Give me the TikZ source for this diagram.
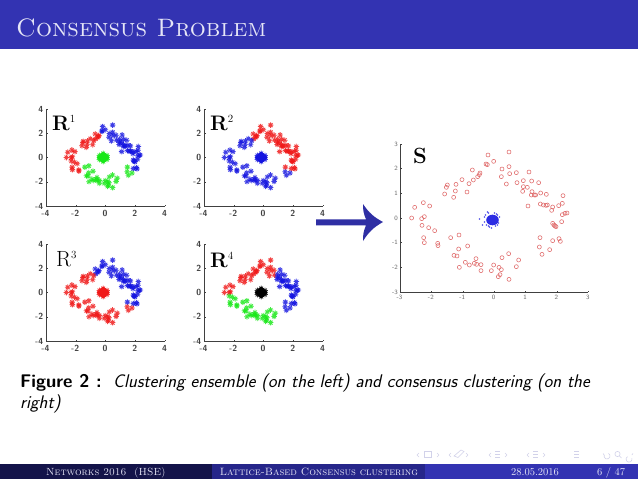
\documentclass[tikz,border=0pt]{standalone}
\definecolor{beamerblue}{HTML}{3333B2}
\definecolor{footdark}{HTML}{14144A}
\definecolor{footmid}{HTML}{26268A}
\definecolor{titletext}{HTML}{E6E6F7}
\definecolor{navgray}{HTML}{D2D2EA}
\definecolor{axisgray}{HTML}{404040}
\definecolor{mred}{HTML}{F01818}
\definecolor{mblue}{HTML}{1414E0}
\definecolor{mgreen}{HTML}{18E818}
\definecolor{mblack}{HTML}{000000}
\definecolor{sred}{HTML}{E06A6A}
\def\ptsAtop{387/66,324/75,341/94,318/102,322/104,387/110,366/117,389/131,409/128,364/140,379/162,411/158}
\def\ptsArest{447/126,430/152,455/153,476/158,430/170,442/172,428/184,456/185,482/189,499/193,454/195,463/195,467/195,549/197,481/222,490/225,498/226,502/225,518/231,515/241,536/227,547/220,444/228,555/250,561/249,547/254,545/275,518/280,522/285,525/288,528/290}
\def\ptsAa{518/332,537/326,541/334}
\def\ptsAb{480/323}
\def\ptsAc{478/351,509/359,486/373}
\def\ptsBa{277/120,300/129,298/134,293/140,280/150}
\def\ptsBb{246/149,228/163,267/161,202/165,199/172,226/183,261/186,194/192,221/202}
\def\ptsCa{130/218,104/232,149/228,95/264,125/266,133/260}
\def\ptsCb{126/286,146/293,164/302,131/323,133/338,173/340,174/347}
\def\ptsD{212/323,237/315,263/348,236/357,222/376,231/378,288/386,256/397,238/412,268/405,283/400,290/403,303/404,303/422,341/405,357/412,364/419,334/422,355/440,360/434,386/371,366/383,416/390,409/410,387/448}
\tikzset{
  axisline/.style={draw=axisgray,line width=0.7pt},
  ticklabel/.style={font=\sffamily\bfseries\fontsize{8.8}{9}\selectfont,text=axisgray,inner sep=0pt},
  sticklabel/.style={font=\sffamily\fontsize{6.5}{7}\selectfont,text=axisgray!80,inner sep=0pt},
  plotname/.style={inner sep=0pt,anchor=base west,font=\fontsize{21}{22}\selectfont},
  footertext/.style={inner sep=0pt,anchor=base,text=titletext,font=\scshape\fontsize{10.4}{11}\selectfont},
  navline/.style={draw=navgray,line width=0.6pt},
}
\newcommand\onestar[3]{%
  \draw[#1,line width=0.8pt,opacity=.82]
    (#2-2.8,#3)--(#2+2.8,#3) (#2,#3-2.8)--(#2,#3+2.8)
    (#2-1.9,#3-1.9)--(#2+1.9,#3+1.9) (#2-1.9,#3+1.9)--(#2+1.9,#3-1.9);
}
\newcommand\starpts[4]{%
  \expandafter\let\expandafter\curlist\csname pts#1\endcsname
  \foreach \zx/\zy in \curlist {%
    \pgfmathsetmacro\px{#3+(\zx-342)*0.1585}%
    \pgfmathsetmacro\py{#4+(\zy-264)*0.1635}%
    \onestar{#2}{\px}{\py}%
  }%
}
\newcommand\smallaxes[3]{%
  \draw[axisline] (#2-59.5,#3-48.5)--(#2-59.5,#3+48.5)--(#2+59.5,#3+48.5);
  \foreach \v in {-4,-2,0,2,4} {%
    \draw[axisline,line width=0.4pt] (#2-59.5,#3-\v*12.12)--(#2-58,#3-\v*12.12);
    \draw[axisline,line width=0.4pt] (#2+\v*14.87,#3+48.5)--(#2+\v*14.87,#3+47);
    \node[ticklabel,anchor=east] (#1y\v) at (#2-62,#3-\v*12.12) {\v};
    \node[ticklabel] (#1x\v) at (#2+\v*14.87-0.5,#3+56) {\v};
  }%
}
\newcommand\centreblob[3]{%
  \filldraw[#1,line width=1.6pt,line join=round] (#2-8,#3) -- (#2-2.3,#3-5) -- (#2+3.4,#3) -- (#2-2.3,#3+5) -- cycle;
  \foreach \ox/\oy in {-6/-2,-6/2,-2.3/-4,-2.3/4,1.5/-2,1.5/2} {\onestar{#1}{#2+\ox}{#3+\oy}}
}
\begin{document}
\begin{tikzpicture}[x=1pt,y=-1pt]
\useasboundingbox (0,0) rectangle (638,479);
\fill[white] (0,0) rectangle (638,479);
% title bar
\fill[beamerblue] (0,0) rectangle (638,49);
\node[inner sep=0pt,anchor=base west,text=titletext,font=\scshape\fontsize{25.2}{27}\selectfont] (title) at (16,36) {Consensus Problem};
% plot R1
\smallaxes{ra}{105.5}{157.5}
\foreach \g/\c in {Atop/mblue,Arest/mblue,Aa/mblue,Ab/mgreen,Ac/mgreen,Ba/mred,Bb/mred,Ca/mred,Cb/mred,D/mgreen} {\starpts{\g}{\c}{105.5}{157.5}}
\centreblob{mgreen}{105.5}{157.5}
\node[plotname] (ra) at (52,130) {\textbf{R}\raisebox{8pt}{\fontsize{11}{12}\selectfont 1}};
% plot R2
\smallaxes{rb}{263.5}{157.5}
\foreach \g/\c in {Atop/mred,Arest/mred,Aa/mred,Ab/mred,Ac/mblue,Ba/mred,Bb/mblue,Ca/mblue,Cb/mblue,D/mblue} {\starpts{\g}{\c}{263.5}{157.5}}
\centreblob{mblue}{263.5}{157.5}
\node[plotname] (rb) at (210,130) {\textbf{R}\raisebox{8pt}{\fontsize{11}{12}\selectfont 2}};
% plot R3
\smallaxes{rc}{105.5}{292.5}
\foreach \g/\c in {Atop/mblue,Arest/mblue,Aa/mblue,Ab/mblue,Ac/mred,Ba/mblue,Bb/mred,Ca/mred,Cb/mred,D/mred} {\starpts{\g}{\c}{105.5}{292.5}}
\centreblob{mred}{105.5}{292.5}
\node[plotname,font=\fontsize{22}{23}\selectfont] (rc) at (56,266) {R\raisebox{8pt}{\fontsize{11}{12}\selectfont 3}};
% plot R4
\smallaxes{rd}{263.5}{292.5}
\foreach \g/\c in {Atop/mred,Arest/mblue,Aa/mblue,Ab/mblue,Ac/mblue,Ba/mred,Bb/mred,Ca/mred,Cb/mgreen,D/mgreen} {\starpts{\g}{\c}{263.5}{292.5}}
\centreblob{mblack}{263.5}{292.5}
\node[plotname] (rd) at (210,267) {\textbf{R}\raisebox{8pt}{\fontsize{11}{12}\selectfont 4}};
% big arrow
\fill[beamerblue!92!black] (316,219.3)--(366,219.3) to[bend left=12] (363,204) to[bend right=14] (383,222) to[bend right=14] (363,241) to[bend left=12] (366,225.3)--(316,225.3)--cycle;
% plot S
\draw[axisline,line width=0.5pt] (400,144)--(400,292)--(588.3,292);
\foreach \v in {-3,-2,-1,0,1,2,3} {%
  \draw[axisline,line width=0.35pt] (400,218-\v*24.67)--(401.5,218-\v*24.67);
  \draw[axisline,line width=0.35pt] (494.1+\v*31.38,292)--(494.1+\v*31.38,290.5);
  \node[sticklabel,anchor=east] (sy\v) at (398,218-\v*24.67) {\v};
  \node[sticklabel] (sx\v) at (494.1+\v*31.38-0.5,297) {\v};
}
\foreach \g in {Atop,Arest,Aa,Ab,Ac,Ba,Bb,Ca,Cb,D} {
  \expandafter\let\expandafter\curlist\csname pts\g\endcsname
  \foreach \zx/\zy in \curlist {
    \draw[sred,line width=0.55pt] (380+\zx/3,130+\zy/3) circle (2);
  }
}
\fill[mblue!90!white] (492.5,220) ellipse (6.3 and 5.3);
\foreach \dx/\dy in {-5/-8,-13/-1,-10/5,4/-6,6/3,-6/5,-3/7,-1/8,3/6,-8/-3,-4/-7,2/-7,7/-3,-8/2,-7/-5,5/-5,5/5,-4/6} {
  \fill[mblue!75!white] (492.5+\dx,220+\dy) circle (0.8);
}
\node[inner sep=0pt,anchor=base west,font=\fontsize{22}{23}\selectfont\bfseries] (slabel) at (413,163) {S};
% caption
\node[inner sep=0pt,anchor=base west,font=\sffamily\fontsize{18.3}{20}\selectfont] (capa) at (20,387) {\textbf{Figure 2 :}\ \ \textit{Clustering ensemble (on the left) and consensus clustering (on the}};
\node[inner sep=0pt,anchor=base west,font=\sffamily\itshape\fontsize{18.3}{20}\selectfont] (capb) at (20,408) {right)};
% footer
\fill[footdark] (0,464) rectangle (212,479);
\fill[footmid] (212,464) rectangle (425,479);
\fill[beamerblue] (425,464) rectangle (638,479);
\node[footertext] (fa) at (106,475) {Networks 2016\ \ (HSE)};
\node[footertext,font=\scshape\fontsize{10.6}{12}\selectfont] (fb) at (319,475) {Lattice-Based Consensus clustering};
\node[footertext,font=\fontsize{10.5}{11}\selectfont] (fc) at (535,475) {28.05.2016};
\node[footertext,font=\fontsize{10.5}{11}\selectfont] (fd) at (611,475) {6 / 47};
% navigation symbols
\begin{scope}[navline,yshift=2pt]
  \draw (419,455)--(417,457)--(419,459);
  \draw (424,453.5) rectangle (431,459.5);
  \draw (439,457)--(437,455) (439,457)--(437,459);
  \draw (449,457)--(451,455) (449,457)--(451,459);
  \draw (454,458)--(458,459.5)--(464,453.5)--(461,452)--cycle;
  \draw (468,457)--(466,455) (468,457)--(466,459);
  \draw (489,457)--(491,455) (489,457)--(491,459);
  \draw (495,453)--(500,453) (495,456)--(500,456) (495,459)--(500,459);
  \draw (507,457)--(505,455) (507,457)--(505,459);
  \draw (527,457)--(529,455) (527,457)--(529,459);
  \draw (533,453)--(538,453) (533,456)--(538,456) (533,459)--(538,459);
  \draw (545,457)--(543,455) (545,457)--(543,459);
  \draw (574,453)--(579,453) (574,456)--(579,456) (574,459)--(579,459);
  \draw (604.2,457) arc (200:-60:3);
  \draw (604.2,457)--(603,455.5);
  \draw (617.5,456) circle (2.6) (619.5,458)--(621.5,460);
  \draw (627.5,458.6) arc (240:-20:3);
  \draw (631.8,457)--(633,455.5);
\end{scope}
\end{tikzpicture}
\end{document}
